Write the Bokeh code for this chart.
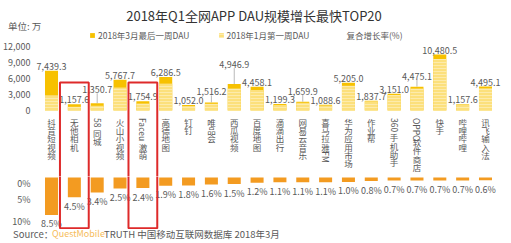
import math
from bokeh.plotting import figure
from bokeh.models import (ColumnDataSource, FixedTicker, PrintfTickFormatter, Range1d, Div,
                          Legend, LegendItem, FactorRange, NumeralTickFormatter)
from bokeh.layouts import column
from bokeh.embed import file_html
from bokeh.resources import INLINE
from bokeh.core.properties import value

# ---------------- data ----------------
apps = ["抖音短视频", "无他相机", "58同城", "火山小视频", "Faceu激萌", "高德地图", "钉钉", "唯品会",
        "西瓜视频", "百度地图", "滴滴出行", "网易云音乐", "喜马拉雅FM", "华为应用市场", "作业帮",
        "360手机助手", "OPPO软件商店", "快手", "哔哩哔哩", "讯飞输入法"]
dau_mar = [7439.3, 1157.6, 1350.7, 5767.7, 1754.9, 6286.5, 1052.0, 1516.2, 4946.9, 4458.1,
           1199.3, 1659.9, 1088.6, 5205.0, 1837.7, 3151.0, 4475.1, 10480.5, 1157.6, 4495.1]
dau_jan = [2800, 690, 900, 4290, 1320, 5020, 850, 1250, 4140, 3860,
           1050, 1460, 955, 4620, 1670, 2900, 4120, 9640, 1065, 4190]
growth = [8.5, 4.5, 3.4, 2.5, 2.4, 1.9, 1.8, 1.6, 1.5, 1.2,
          1.1, 1.1, 1.1, 1.0, 0.8, 0.7, 0.7, 0.7, 0.7, 0.6]
dau_ticks = [0, 3000, 6000, 9000, 12000]
pct_ticks = [0, 5, 10]
highlight = ["无他相机", "Faceu激萌"]

title_text = "2018年Q1全网APP DAU规模增长最快TOP20"
unit_text = "单位: 万"
legend_labels = ["2018年3月最后一周DAU", "2018年1月第一周DAU", "复合增长率(%)"]
source_parts = ["Source：", "QuestMobile", "TRUTH 中国移动互联网数据库 2018年3月"]

# ---------------- style / layout ----------------
FONT = "Noto Sans CJK SC"
C_MAR = "#F7C100"
C_JAN = "#FCE07C"
C_PCT = "#F39B21"
C_RED = "#DE2A2A"
C_TXT = "#595959"
C_QM = "#F6BC5A"
W = 511
HEAD_H, TOP_H, BOT_H, FOOT_H = 30, 146, 53, 14
FL, FR = 30, 5
CAT_PAD = 0.42
ZERO_PX = 110 - HEAD_H  # y of DAU 0 inside top figure
UPP = 12000 / 64.0      # DAU units per pixel
PCT_ZERO_PX = 1         # y of 0% inside bottom figure
PX_PER_PCT = 4.4
BAR_W = 0.57
HL_HALF = 0.63
label_lift = {"58同城": 9, "唯品会": 6, "西瓜视频": 15, "网易云音乐": 6, "OPPO软件商店": 6}


def dau_y(py):
    """top-figure pixel -> DAU coordinate"""
    return (ZERO_PX - py) * UPP


def pct_y(py):
    """bottom-figure pixel -> pct coordinate"""
    return (py - PCT_ZERO_PX) / PX_PER_PCT


def bare(fig):
    fig.outline_line_color = None
    fig.grid.grid_line_color = None
    return fig


def style_yaxis(fig, ticks, standoff):
    ax = fig.yaxis
    ax.ticker = FixedTicker(ticks=ticks)
    ax.axis_line_color = None
    ax.major_tick_line_color = None
    ax.minor_tick_line_color = None
    ax.major_tick_out = 0
    ax.major_tick_in = 0
    ax.major_label_standoff = standoff
    ax.major_label_text_font = FONT
    ax.major_label_text_font_size = "9px"
    ax.major_label_text_color = C_TXT


def span(txt, left, top, size, color, lh, extra=""):
    return (f'<span style="position:absolute;left:{left}px;top:{top}px;font-size:{size};'
            f'line-height:{lh}px;color:{color};white-space:nowrap;{extra}">{txt}</span>')


xr = FactorRange(factors=apps, range_padding=CAT_PAD, range_padding_units="absolute")
hl_idx = [apps.index(h) for h in highlight]
hl_left = [i + 0.5 - HL_HALF for i in hl_idx]
hl_right = [i + 0.5 + HL_HALF for i in hl_idx]

# ---------------- header: title and unit ----------------
head_html = (f'<div style="position:relative;width:{W}px;height:{HEAD_H}px;font-family:\'{FONT}\';">'
             + span(title_text, 0, 9, "13px", "#333333", 14, "width:508px;text-align:center;")
             + span(unit_text, 8, 21, "9.5px", C_TXT, 10)
             + '</div>')
head = Div(text=head_html, width=W, height=HEAD_H, margin=0)

# ---------------- top figure (DAU) ----------------
top = bare(figure(width=W, height=TOP_H, x_range=xr,
                  y_range=Range1d(dau_y(TOP_H), dau_y(0)),
                  output_backend="svg", toolbar_location=None, x_axis_location=None,
                  min_border=0, min_border_left=FL, min_border_right=FR, margin=0))
style_yaxis(top, dau_ticks, 0)
top.yaxis.formatter = NumeralTickFormatter(format="0,0")

src = ColumnDataSource(dict(app=apps, mar=dau_mar, jan=dau_jan, growth=growth,
                            mar_lbl=[f"{v:,.1f}" for v in dau_mar],
                            pct_lbl=[f"{v:.1f}%" for v in growth],
                            lift=[-(1 + label_lift.get(a, 0)) for a in apps]))

r_mar = top.vbar(x="app", top="mar", bottom=0, width=BAR_W, source=src,
                 fill_color=C_MAR, line_color=None)
r_jan = top.vbar(x="app", top="jan", bottom=0, width=BAR_W, source=src,
                 fill_color=C_JAN, line_color=None,
                 hatch_pattern="horizontal_line", hatch_color="white",
                 hatch_alpha=0.45, hatch_scale=3, hatch_weight=0.8)
r_pct_lg = top.vbar(x=[], top=[], width=BAR_W, fill_color=C_PCT, line_color=None)

# leader lines for lifted value labels
ll_x, ll_y0, ll_y1 = [], [], []
for a, v in zip(apps, dau_mar):
    if a in label_lift:
        ll_x.append(a)
        ll_y0.append(v)
        ll_y1.append(v + (label_lift[a] + 1) * UPP)
top.segment(x0=ll_x, y0=ll_y0, x1=ll_x, y1=ll_y1, line_color="#A6A6A6", line_width=0.8)

top.text(x="app", y="mar", text="mar_lbl", y_offset="lift", source=src,
         text_align="center", text_baseline="bottom",
         text_font=value(FONT), text_font_size=value("9px"), text_color=C_TXT)

# vertical category labels (CJK upright, Latin runs rotated)
CJK_FS = 8.5
CJK_PITCH = 8.3
LAT_ADV = 0.56 * CJK_FS
up_x, up_t, up_o, rot_x, rot_t, rot_o = [], [], [], [], [], []
for a in apps:
    pos = 7.0
    i = 0
    while i < len(a):
        if ord(a[i]) < 128:
            j = i
            while j < len(a) and ord(a[j]) < 128:
                j += 1
            run = a[i:j]
            rot_x.append(a); rot_t.append(run); rot_o.append(pos + 0.5)
            pos += len(run) * LAT_ADV + 1.5
            i = j
        else:
            up_x.append(a); up_t.append(a[i]); up_o.append(pos + CJK_PITCH / 2)
            pos += CJK_PITCH
            i += 1
top.text(x=up_x, y=[0] * len(up_x), text=up_t, y_offset=up_o,
         text_align="center", text_baseline="middle",
         text_font=value(FONT), text_font_size=value(f"{CJK_FS}px"), text_color=C_TXT)
top.text(x=rot_x, y=[0] * len(rot_x), text=rot_t, y_offset=rot_o, angle=-math.pi / 2,
         text_align="left", text_baseline="middle",
         text_font=value(FONT), text_font_size=value(f"{CJK_FS}px"), text_color=C_TXT)

top.quad(left=hl_left, right=hl_right,
         top=[dau_y(82 - HEAD_H)] * len(hl_idx), bottom=[dau_y(2 * TOP_H)] * len(hl_idx),
         fill_color=None, line_color=C_RED, line_width=2)

legend = Legend(items=[LegendItem(label=legend_labels[0], renderers=[r_mar]),
                       LegendItem(label=legend_labels[1], renderers=[r_jan]),
                       LegendItem(label=legend_labels[2], renderers=[r_pct_lg])],
                location=(89 - FL, TOP_H - 11), orientation="horizontal",
                glyph_width=6, glyph_height=6, label_standoff=3, spacing=28,
                padding=0, margin=0, border_line_color=None, background_fill_alpha=0,
                label_height=10, label_text_font=FONT, label_text_font_size="8.5px",
                label_text_color=C_TXT)
top.add_layout(legend)

# ---------------- bottom figure (growth rate) ----------------
bot = bare(figure(width=W, height=BOT_H, x_range=xr,
                  y_range=Range1d(pct_y(BOT_H), pct_y(0)),
                  output_backend="svg", toolbar_location=None, x_axis_location=None,
                  min_border=0, min_border_left=FL, min_border_right=FR, margin=0))
style_yaxis(bot, pct_ticks, 0)
bot.yaxis.formatter = PrintfTickFormatter(format="%d%%")

bot.vbar(x="app", top="growth", bottom=0, width=BAR_W, source=src,
         fill_color=C_PCT, line_color=None)
bot.text(x="app", y="growth", text="pct_lbl", y_offset=2.5, source=src,
         text_align="center", text_baseline="top",
         text_font=value(FONT), text_font_size=value("9px"), text_color=C_TXT)
bot.quad(left=hl_left, right=hl_right, top=[pct_y(-10)] * len(hl_idx),
         bottom=[pct_y(BOT_H - 1.2)] * len(hl_idx),
         fill_color=None, line_color=C_RED, line_width=2)

# ---------------- footer: source ----------------
foot_html = (f'<div style="position:relative;width:{W}px;height:{FOOT_H}px;font-family:\'{FONT}\';">'
             + span(source_parts[0], 13, 0, "9.5px", C_TXT, 10)
             + span(source_parts[1], 52, 0, "9px", C_QM, 10)
             + span(source_parts[2], 104, 0, "9.5px", C_TXT, 10)
             + '</div>')
foot = Div(text=foot_html, width=W, height=FOOT_H, margin=0)

layout = column(head, top, bot, foot, spacing=0)
open("out.html", "w").write(file_html(layout, INLINE))
